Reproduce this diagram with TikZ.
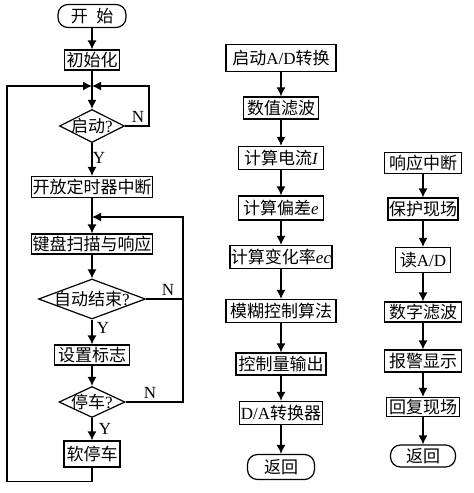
\documentclass[tikz,border=0pt]{standalone}
\usepackage{fontspec}
\setmainfont{Liberation Serif}
\newfontfamily\cjk{Noto Sans CJK SC}
\usetikzlibrary{shapes.geometric,arrows.meta}

\tikzset{
  box/.style={draw, line width=1.2pt, fill=white, inner sep=1pt, font=\cjk\fontsize{17}{19}\selectfont},
  term/.style={box, rounded corners=10pt},
  decision/.style={draw, diamond, line width=1.2pt, inner sep=0pt, font=\cjk\fontsize{17}{19}\selectfont},
  yn/.style={font=\fontsize{17}{19}\selectfont},
  line/.style={line width=1.3pt},
  flow/.style={line, -{Latex[length=9pt,width=9pt]}}
}

\begin{document}
\begin{tikzpicture}[x=1pt, y=-1pt]
            \useasboundingbox (0,0) rectangle (474,493);

            % main loop
            \node[term, minimum width=68pt, minimum height=23pt] (start) at (92,16) {开\enspace 始};
            \node[box, minimum width=55pt, minimum height=20pt] (init) at (92,60) {初始化};
            \coordinate (j1) at (92,86);
            \node[decision, minimum width=65pt, minimum height=33pt] (qd) at (92,126) {\makebox[0pt]{启动{\rmfamily ?}}};
            \node[box, minimum width=119pt, minimum height=21pt] (kf) at (92,187) {开放定时器中断};
            \coordinate (j2) at (92,217);
            \coordinate (rj) at (183,217);
            \node[box, minimum width=119pt, minimum height=20pt] (kb) at (92,244) {键盘扫描与响应};
            \node[decision, minimum width=107pt, minimum height=40pt] (zd) at (92,299) {\makebox[0pt]{自动结束{\rmfamily ?}}};
            \node[box, minimum width=75pt, minimum height=20pt] (sz) at (92,355) {设置标志};
            \node[decision, minimum width=66pt, minimum height=31pt] (tc) at (92,402) {\makebox[0pt]{停车{\rmfamily ?}}};
            \node[box, minimum width=56pt, minimum height=26pt] (rt) at (92,454) {软停车};

            \node[yn] (n1) at (138,117) {N};
            \node[yn] (y1) at (99,158) {Y};
            \node[yn] (n2) at (168,290) {N};
            \node[yn] (y2) at (103,328) {Y};
            \node[yn] (n3) at (150,393) {N};
            \node[yn] (y3) at (105,429) {Y};

            \draw[flow] (start) -- (init);
            \draw[line] (init) -- (j1);
            \draw[flow] (j1) -- (qd);
            \draw[flow] (qd.east) -- ++(24,0) |- (j1);
            \draw[flow] (qd) -- (kf);
            \draw[line] (kf) -- (j2);
            \draw[flow] (j2) -- (kb);
            \draw[flow] (kb) -- (zd);
            \draw[line] (zd.east) -- (zd.east -| rj);
            \draw[flow] (zd) -- (sz);
            \draw[flow] (sz) -- (tc);
            \draw[flow] (tc.east) -| (rj) -- (j2);
            \draw[flow] (tc) -- (rt);
            \draw[flow] (rt.south) -- ++(0,14) -| ([xshift=-85pt]j1) -- (j1);

            % A/D routine
            \node[box, minimum width=110pt, minimum height=27pt] (ad) at (281,58) {启动{\rmfamily A/D}转换};
            \node[box, minimum width=75pt, minimum height=22pt] (lb) at (281,108) {数值滤波};
            \node[box, minimum width=85pt, minimum height=23pt] (dl) at (281,158) {计算电流{\rmfamily\itshape I}};
            \node[box, minimum width=85pt, minimum height=24pt] (pc) at (281,208) {计算偏差{\rmfamily\itshape e}};
            \node[box, minimum width=100pt, minimum height=23pt] (bh) at (281,257) {计算变化率{\rmfamily\itshape ec}};
            \node[box, minimum width=110pt, minimum height=23pt] (mh) at (281,311) {模糊控制算法};
            \node[box, minimum width=90pt, minimum height=22pt] (sc) at (281,364) {控制量输出};
            \node[box, minimum width=78pt, minimum height=23pt] (da) at (281,413) {{\rmfamily D/A}转换器};
            \node[term, minimum width=67pt, minimum height=25pt] (ret1) at (281,467) {返回};

            \draw[flow] (ad) -- (lb);
            \draw[flow] (lb) -- (dl);
            \draw[flow] (dl) -- (pc);
            \draw[flow] (pc) -- (bh);
            \draw[flow] (bh) -- (mh);
            \draw[flow] (mh) -- (sc);
            \draw[flow] (sc) -- (da);
            \draw[flow] (da) -- (ret1);

            % interrupt routine
            \node[box, minimum width=77pt, minimum height=21pt] (isr) at (423,163) {响应中断};
            \node[box, minimum width=68pt, minimum height=22pt] (prot) at (423,209) {保护现场};
            \node[box, minimum width=55pt, minimum height=25pt] (rdad) at (423,260) {读{\rmfamily A/D}};
            \node[box, minimum width=77pt, minimum height=20pt] (filt) at (423,312) {数字滤波};
            \node[box, minimum width=77pt, minimum height=22pt] (alarm) at (423,361) {报警显示};
            \node[box, minimum width=73pt, minimum height=19pt] (rest) at (423,407) {回复现场};
            \node[term, minimum width=65pt, minimum height=22pt] (ret2) at (423,456) {返回};

            \draw[flow] (isr) -- (prot);
            \draw[flow] (prot) -- (rdad);
            \draw[flow] (rdad) -- (filt);
            \draw[flow] (filt) -- (alarm);
            \draw[flow] (alarm) -- (rest);
            \draw[flow] (rest) -- (ret2);
\end{tikzpicture}
\end{document}
